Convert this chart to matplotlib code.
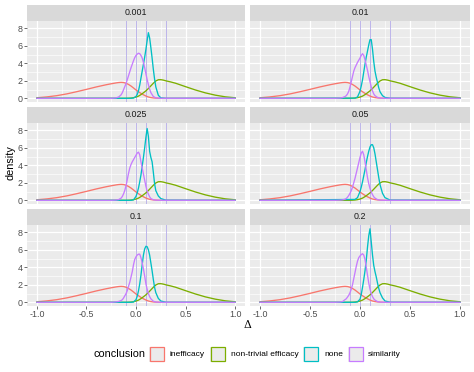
import matplotlib
matplotlib.use("Agg")
import matplotlib.pyplot as plt
from matplotlib.patches import Rectangle

plt.rcParams['font.family'] = ['Liberation Sans', 'DejaVu Sans']

### Data ###
panels = ["0.001", "0.01", "0.025", "0.05", "0.1", "0.2"]
conclusions = ["inefficacy", "non-trivial efficacy", "none", "similarity"]
colors = ["#F8766D", "#7CAE00", "#00BFC4", "#C77CFF"]
thresholds = [-0.1, 0.0, 0.1, 0.3]

# broad curves (same in every panel)
delta_wide = [-1.0, -0.9, -0.8, -0.7, -0.6, -0.5, -0.4, -0.3, -0.25, -0.2, -0.175, -0.15,
              -0.125, -0.1, -0.075, -0.05, -0.025, 0.0, 0.025, 0.05, 0.075, 0.1, 0.125,
              0.15, 0.175, 0.2, 0.225, 0.25, 0.275, 0.3, 0.35, 0.4, 0.5, 0.6, 0.7, 0.8,
              0.9, 1.0]
inefficacy = [0.06, 0.16, 0.3, 0.5, 0.75, 1.02, 1.3, 1.55, 1.66, 1.76, 1.8, 1.82,
              1.8, 1.72, 1.58, 1.4, 1.18, 0.95, 0.75, 0.56, 0.4, 0.26, 0.15,
              0.08, 0.04, 0.02, 0.01, 0.0, 0.0, 0.0, 0.0, 0.0, 0.0, 0.0, 0.0, 0.0,
              0.0, 0.0]
efficacy = [0.0, 0.0, 0.0, 0.0, 0.0, 0.0, 0.0, 0.0, 0.0, 0.0, 0.0, 0.0,
            0.0, 0.0, 0.01, 0.03, 0.07, 0.14, 0.25, 0.42, 0.63, 0.85, 1.12,
            1.42, 1.72, 1.98, 2.12, 2.13, 2.08, 2.0, 1.87, 1.72, 1.33, 0.95, 0.62, 0.36,
            0.17, 0.06]

# "none" curves
delta_none = [-1.0, -0.05, -0.025, 0.0, 0.0125, 0.025, 0.0375, 0.05, 0.0625, 0.075, 0.0875,
              0.1, 0.1125, 0.125, 0.1375, 0.15, 0.1625, 0.175, 0.1875, 0.2, 0.225, 0.25,
              0.3, 1.0]
none_001 = [0, 0.0, 0.03, 0.2, 0.45, 0.85, 1.5, 2.3, 3.1, 3.9, 4.7,
            5.6, 6.6, 7.5, 6.9, 5.8, 4.6, 3.3, 2.2, 1.3, 0.35, 0.05, 0.0, 0]
none_01 = [0, 0.02, 0.15, 0.8, 1.4, 2.1, 3.0, 3.9, 4.7, 5.4, 6.1,
           6.7, 6.7, 5.6, 4.2, 3.1, 2.4, 1.8, 1.2, 0.75, 0.3, 0.1, 0.01, 0]
none_025 = [0, 0.0, 0.05, 0.45, 0.85, 1.4, 2.1, 2.9, 3.9, 4.9, 6.0,
            7.2, 8.2, 7.3, 5.6, 4.9, 4.4, 3.2, 1.9, 1.1, 0.5, 0.2, 0.02, 0]
none_05 = [0, 0.1, 0.3, 1.0, 1.5, 2.1, 2.8, 3.5, 4.3, 5.0, 5.6,
           6.1, 6.35, 6.35, 6.0, 5.3, 4.4, 3.5, 2.6, 1.8, 0.8, 0.3, 0.03, 0]
none_1 = [0, 0.0, 0.03, 0.3, 0.7, 1.3, 2.1, 3.1, 4.3, 5.4, 6.1,
          6.4, 6.35, 6.0, 5.4, 4.5, 3.6, 2.6, 1.7, 1.1, 0.45, 0.15, 0.01, 0]
none_2 = [0, 0.0, 0.05, 0.35, 0.9, 1.7, 2.6, 3.6, 4.8, 6.3, 7.6,
          8.4, 6.9, 5.4, 4.2, 3.5, 2.9, 2.2, 1.6, 1.1, 0.5, 0.15, 0.01, 0]

# "similarity" curves
delta_sim = [-1.0, -0.25, -0.2, -0.175, -0.15, -0.1375, -0.125, -0.1125, -0.1, -0.0875,
             -0.075, -0.0625, -0.05, -0.0375, -0.025, -0.0125, 0.0, 0.0125, 0.025, 0.0375,
             0.05, 0.0625, 0.075, 0.0875, 0.1, 0.1125, 0.125, 0.1375, 0.15, 0.175, 0.2,
             0.25, 1.0]
sim_001 = [0, 0, 0.05, 0.15, 0.4, 0.65, 1.0, 1.35, 1.7, 2.15,
           2.6, 3.05, 3.5, 3.9, 4.3, 4.65, 4.9, 5.05, 5.15, 5.1,
           4.9, 4.6, 4.1, 3.5, 2.8, 2.15, 1.55, 1.05, 0.65, 0.2, 0.05,
           0, 0]
sim_01 = [0, 0, 0.03, 0.08, 0.2, 0.3, 0.5, 0.8, 1.3, 1.9,
          2.5, 3.1, 3.5, 3.8, 4.1, 4.35, 4.6, 4.9, 5.1, 4.9,
          4.4, 3.8, 3.2, 2.5, 1.9, 1.3, 0.85, 0.5, 0.3, 0.1, 0.03,
          0, 0]
sim_025 = [0, 0, 0.03, 0.08, 0.25, 0.45, 0.75, 1.15, 1.7, 2.4,
           3.1, 3.7, 4.1, 4.4, 4.65, 4.9, 5.15, 5.4, 5.5, 5.2,
           4.4, 3.7, 3.0, 2.3, 1.6, 1.05, 0.7, 0.4, 0.2, 0.06, 0.02,
           0, 0]
sim_05 = [0, 0, 0.02, 0.05, 0.12, 0.2, 0.35, 0.55, 0.8, 1.1,
          1.5, 2.0, 2.5, 3.1, 3.7, 4.3, 4.9, 5.4, 5.6, 5.2,
          4.4, 3.5, 2.6, 1.9, 1.35, 0.95, 0.65, 0.4, 0.25, 0.08, 0.02,
          0, 0]
sim_1 = [0, 0, 0.05, 0.1, 0.2, 0.3, 0.5, 0.75, 1.0, 1.35,
         1.85, 2.3, 2.9, 3.5, 4.3, 4.9, 5.2, 5.4, 5.5, 5.5,
         5.1, 4.5, 3.8, 3.0, 2.1, 1.5, 1.0, 0.65, 0.4, 0.12, 0.03,
         0, 0]
sim_2 = [0, 0, 0.03, 0.08, 0.3, 0.4, 0.6, 0.8, 1.1, 1.5,
         2.0, 2.7, 3.4, 4.1, 4.7, 5.1, 5.3, 5.45, 5.55, 5.4,
         4.9, 4.0, 3.1, 2.2, 1.5, 1.0, 0.65, 0.4, 0.25, 0.08, 0.02,
         0, 0]

none_curves = [none_001, none_01, none_025, none_05, none_1, none_2]
sim_curves = [sim_001, sim_01, sim_025, sim_05, sim_1, sim_2]

### Figure ###
W, H = 474, 372
fig = plt.figure(figsize=(W / 100, H / 100), dpi=100)


def fig_rect(x0, y0, x1, y1):
    # pixel box (top-left origin) -> figure fraction
    return [x0 / W, 1 - y1 / H, (x1 - x0) / W, (y1 - y0) / H]


cols = [(27, 245), (250, 470)]
for i, name in enumerate(panels):
    r, c = divmod(i, 2)
    x0, x1 = cols[c]
    top = 20.5 + 102 * r
    bot = 102 + 102 * r

    ax = fig.add_axes(fig_rect(x0, top, x1, bot))
    ax.set_facecolor('#EBEBEB')
    ax.set_xlim(-1.1, 1.1)
    ax.set_ylim(-0.423, 8.89)
    ax.set_xticks([-1, -0.5, 0, 0.5, 1])
    ax.set_xticklabels(['-1.0', '-0.5', '0.0', '0.5', '1.0'])
    ax.set_xticks([-0.75, -0.25, 0.25, 0.75], minor=True)
    ax.set_yticks([0, 2, 4, 6, 8])
    ax.set_yticks([1, 3, 5, 7], minor=True)
    ax.grid(which='major', color='white', lw=0.9)
    ax.grid(which='minor', color='white', lw=0.45)
    ax.set_axisbelow(True)
    for s in ax.spines.values():
        s.set_visible(False)
    ax.tick_params(which='minor', length=0)
    ax.tick_params(which='major', length=2.2, width=0.5, color='#333333',
                   labelsize=6.4, labelcolor='#4D4D4D', pad=1)
    if c == 1:
        ax.tick_params(axis='y', which='major', length=0, labelleft=False)
    if r < 2:
        ax.tick_params(axis='x', which='major', length=0, labelbottom=False)

    for t in thresholds:
        ax.axvline(t, color='#BDB5EA', lw=0.7, zorder=1)

    ax.plot(delta_wide, inefficacy, color=colors[0], lw=0.95, zorder=2)
    ax.plot(delta_wide, efficacy, color=colors[1], lw=0.95, zorder=2)
    ax.plot(delta_none, none_curves[i], color=colors[2], lw=0.95, zorder=2)
    ax.plot(delta_sim, sim_curves[i], color=colors[3], lw=0.95, zorder=2)

    # facet strip
    sax = fig.add_axes(fig_rect(x0, 5 + 102 * r, x1, top))
    sax.set_facecolor('#D9D9D9')
    sax.set_xticks([])
    sax.set_yticks([])
    for s in sax.spines.values():
        s.set_visible(False)
    sax.text(0.5, 0.5, name, ha='center', va='center', fontsize=6.4, color='#1A1A1A',
             transform=sax.transAxes)

fig.text(10 / W, 1 - 163 / H, 'density', rotation=90, ha='center', va='center',
         fontsize=7.8, color='black')
fig.text(247.5 / W, 1 - 325 / H, '\u0394', ha='center', va='center',
         fontsize=7.8, family='DejaVu Serif', color='black')

# legend
lax = fig.add_axes(fig_rect(0, 334, W, 372))
lax.set_xlim(0, W)
lax.set_ylim(372, 334)
lax.axis('off')
lax.text(94, 354, 'conclusion', ha='left', va='center', fontsize=7.8, color='black')
key_x = [149, 210, 303, 348]
label_x = [170, 231, 324, 368]
for kx, lx, col, lab in zip(key_x, label_x, colors, conclusions):
    lax.add_patch(Rectangle((kx, 346.5), 15.5, 15.5, facecolor='#EBEBEB', edgecolor='none'))
    lax.add_patch(Rectangle((kx + 0.8, 347.3), 13.9, 13.9, facecolor='none',
                            edgecolor=col, lw=0.9))
    lax.text(lx, 354, lab, ha='left', va='center', fontsize=6.0, color='black')

fig.savefig('out.png', dpi=100)
